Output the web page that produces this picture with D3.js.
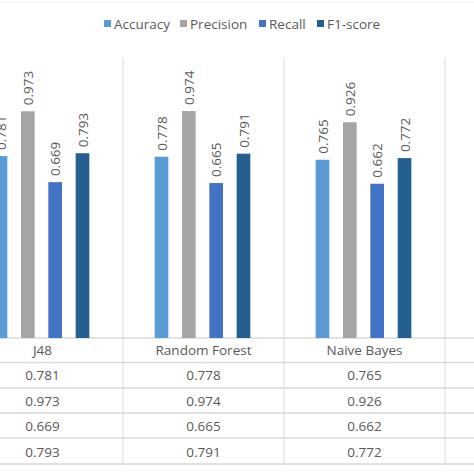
<!DOCTYPE html><html><head><meta charset="utf-8"><script src="https://cdn.jsdelivr.net/npm/d3@7"></script>
<style>body{margin:0;background:#fff}</style></head><body><svg id="c" width="474" height="474"></svg>
<script>
const categories=["J48","Random Forest","Naive Bayes"];
const seriesNames=["Accuracy","Precision","Recall","F1-score"];
const accuracy=[0.781,0.778,0.765];
const precision=[0.973,0.974,0.926];
const recall=[0.669,0.665,0.662];
const f1=[0.793,0.791,0.772];
const values=[accuracy,precision,recall,f1];
const colors=["#5B9BD5","#A5A5A5","#4472C4","#255E91"];
const svg=d3.select("#c");
const font="'Open Sans', sans-serif";
const x=d3.scaleBand().domain(categories).range([-38,445]);
const xi=d3.scaleBand().domain(seriesNames).range([18,141]).paddingInner(0.5).paddingOuter(0.5);
const y=d3.scaleLinear().domain([0,1]).range([338,105]);
const grid="#d9d9d9";
[...categories.map(c=>x(c)+x.bandwidth())].forEach(v=>svg.append("line").attr("x1",v).attr("x2",v).attr("y1",58).attr("y2",465).attr("stroke",grid));
const rowY=[338,362.5,388,413,438,464];
rowY.forEach(v=>svg.append("line").attr("x1",0).attr("x2",474).attr("y1",v).attr("y2",v).attr("stroke",grid).attr("stroke-width",1.5));
svg.append("line").attr("x1",0).attr("x2",474).attr("y1",2).attr("y2",2).attr("stroke","#eee");
categories.forEach((c,ci)=>{
  const g=svg.append("g").attr("transform",`translate(${x(c)},0)`);
  seriesNames.forEach((s,si)=>{
    const v=values[si][ci];
    g.append("rect").attr("x",xi(s)).attr("width",xi.bandwidth()).attr("y",y(v)).attr("height",y(0)-y(v)).attr("fill",colors[si]);
    const cx=xi(s)+xi.bandwidth()/2+5, ty=y(v)-6;
    g.append("text").attr("transform",`translate(${cx},${ty}) rotate(-90)`).attr("font-family",font).attr("font-size",13.5).attr("fill","#595959").text(v.toFixed(3));
  });
  const cx=x(c)+x.bandwidth()/2;
  svg.append("text").attr("x",cx).attr("y",355).attr("text-anchor","middle").attr("font-family",font).attr("font-size",13.5).attr("fill","#595959").text(c);
  values.forEach((arr,ri)=>svg.append("text").attr("x",cx).attr("y",380+ri*25.5).attr("text-anchor","middle").attr("font-family",font).attr("font-size",13.5).attr("fill","#595959").text(arr[ci].toFixed(3)));
});
const lx=[104,180,259,317];
seriesNames.forEach((s,i)=>{
  svg.append("rect").attr("x",lx[i]).attr("y",20).attr("width",7).attr("height",7).attr("fill",colors[i]);
  svg.append("text").attr("x",lx[i]+10).attr("y",29).attr("font-family",font).attr("font-size",13.5).attr("fill","#595959").text(s);
});
</script></body></html>
